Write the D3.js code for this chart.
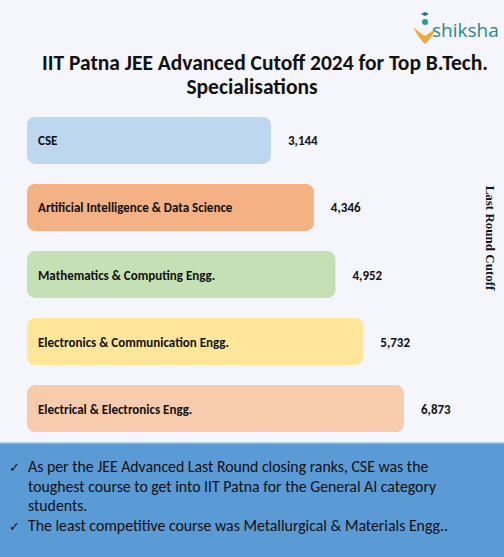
<!DOCTYPE html>
<html><head><meta charset="utf-8">
<script src="https://cdn.jsdelivr.net/npm/d3@7"></script>
<style>body{margin:0;background:#f5f6fc}</style>
</head><body>
<script>
var courses = ["CSE", "Artificial Intelligence & Data Science", "Mathematics & Computing Engg.",
               "Electronics & Communication Engg.", "Electrical & Electronics Engg."];
var cutoffs = [3144, 4346, 4952, 5732, 6873];
var colors = ["#bdd7ee", "#f4b183", "#c5e0b4", "#ffe699", "#f8cbad"];
var notes = [["As per the JEE Advanced Last Round closing ranks, CSE was the",
              "toughest course to get into IIT Patna for the General AI category",
              "students."],
             ["The least competitive course was Metallurgical & Materials Engg.."]];

var width = 504, height = 557;
var font = "Calibri, Carlito, 'Open Sans', sans-serif";

var svg = d3.select("body").append("svg")
    .attr("width", width).attr("height", height)
    .style("font-family", font);

svg.append("rect").attr("width", width).attr("height", height).attr("fill", "#f5f6fc");

svg.append("text").attr("x", 265).attr("y", 70).attr("text-anchor", "middle")
    .attr("font-size", 21.5).attr("font-weight", "bold").attr("fill", "#111")
    .text("IIT Patna JEE Advanced Cutoff 2024 for Top B.Tech.");
svg.append("text").attr("x", 252).attr("y", 94).attr("text-anchor", "middle")
    .attr("font-size", 21.5).attr("font-weight", "bold").attr("fill", "#111")
    .text("Specialisations");

// logo
var logo = svg.append("g");
logo.append("path").attr("d", "M413,27 Q420,40 425,44 Q430,40 437,27 Q430,33 425,36 Q420,33 413,27Z").attr("fill", "#f2a93b");
logo.append("path").attr("d", "M421,14 L425,12 L429,14 L425,16Z").attr("fill", "#1f7a80");
logo.append("circle").attr("cx", 425).attr("cy", 22).attr("r", 3).attr("fill", "#2a9d8f");
logo.append("text").attr("x", 432).attr("y", 37).attr("font-size", 19).attr("fill", "#2a8a8a")
    .attr("font-family", "'Open Sans', sans-serif").text("shiksha");

var x = d3.scaleLinear().domain([3144, 6873]).range([244, 377]);
var y = d3.scaleBand().domain(courses).range([117, 432]).paddingInner(0.3).paddingOuter(0);

var bars = svg.selectAll("g.bar").data(courses).enter().append("g");
bars.append("rect")
    .attr("x", 27).attr("y", function(d) { return y(d); })
    .attr("width", function(d, i) { return x(cutoffs[i]); })
    .attr("height", y.bandwidth()).attr("rx", 8)
    .attr("fill", function(d, i) { return colors[i]; });
bars.append("text")
    .attr("x", 38).attr("y", function(d) { return y(d) + y.bandwidth() / 2 + 5; })
    .attr("font-size", 13).attr("font-weight", "bold").attr("fill", "#111")
    .text(function(d) { return d; });
bars.append("text")
    .attr("x", function(d, i) { return 27 + x(cutoffs[i]) + 17; })
    .attr("y", function(d) { return y(d) + y.bandwidth() / 2 + 5; })
    .attr("font-size", 13).attr("font-weight", "bold").attr("fill", "#111")
    .text(function(d, i) { return d3.format(",")(cutoffs[i]); });

svg.append("text").attr("transform", "translate(486,238) rotate(90)")
    .attr("text-anchor", "middle").attr("font-size", 13).attr("font-weight", "bold")
    .attr("font-family", "'Liberation Serif', serif").attr("fill", "#111")
    .text("Last Round Cutoff");

svg.append("rect").attr("x", 0).attr("y", 443).attr("width", width).attr("height", 114)
    .attr("fill", "#5b9bd5");
svg.append("line").attr("x1", 0).attr("x2", width).attr("y1", 443).attr("y2", 443)
    .attr("stroke", "#9dc3e6").attr("stroke-width", 1.5);

var ny = 472;
notes.forEach(function(lines) {
  svg.append("text").attr("x", 9).attr("y", ny).attr("font-size", 13).attr("fill", "#111").text("✓");
  lines.forEach(function(l) {
    svg.append("text").attr("x", 28).attr("y", ny).attr("font-size", 15.8).attr("fill", "#111").text(l);
    ny += 19.5;
  });
});
</script>
</body></html>
